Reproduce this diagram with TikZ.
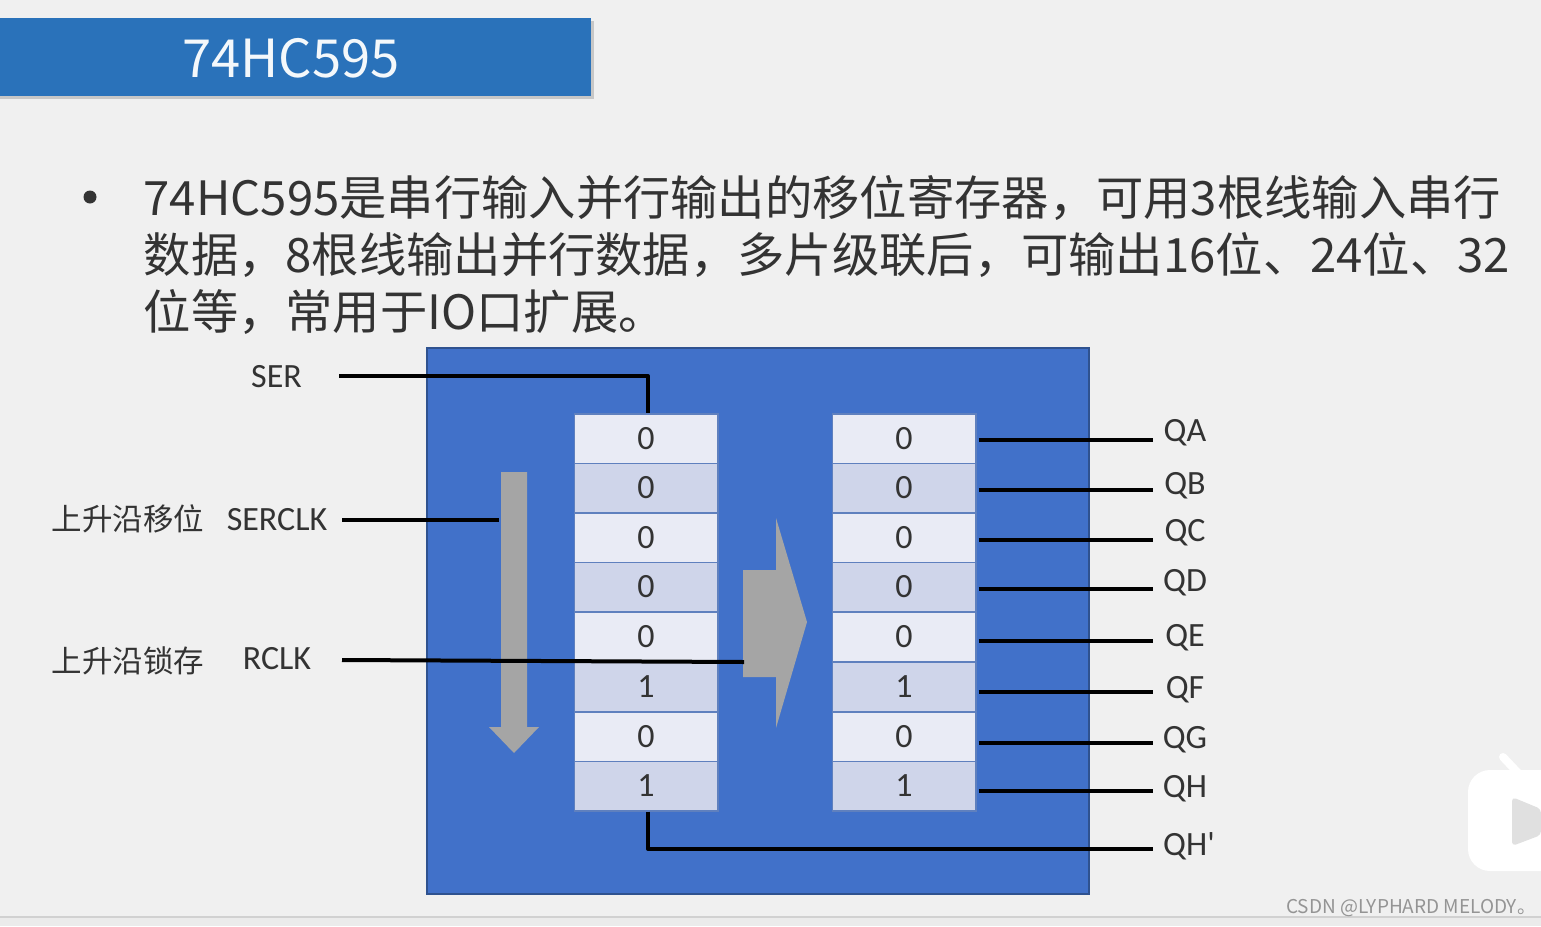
\documentclass[tikz,border=0pt]{standalone}
\usepackage{fontspec}
\setmainfont{Noto Sans CJK SC}
\newfontfamily\sigfont{Carlito}
\definecolor{slide}{HTML}{F0F0F0}
\definecolor{titlebar}{HTML}{2A72BA}
\definecolor{chip}{HTML}{4171C9}
\definecolor{chipline}{HTML}{2F528F}
\definecolor{cellline}{HTML}{5F80BE}
\definecolor{celllight}{HTML}{E9EBF5}
\definecolor{celldark}{HTML}{CFD5EA}
\definecolor{arrowgray}{HTML}{A5A5A5}
\definecolor{ink}{HTML}{333333}
\tikzset{
  cell/.style={draw=cellline,line width=1.5pt,minimum width=143.5pt,minimum height=49.5pt,inner sep=0pt,
    text=ink,font=\sigfont\fontsize{34}{34}\selectfont},
  cella/.style={cell,fill=celllight},
  cellb/.style={cell,fill=celldark},
  sig/.style={inner sep=0pt,text=ink,font=\sigfont\fontsize{34}{34}\selectfont},
  note/.style={inner sep=0pt,text=ink,font=\fontsize{30.5}{30.5}\selectfont},
  body/.style={anchor=west,inner sep=0pt,text=ink,font=\fontsize{47.3}{47.3}\selectfont},
  wire/.style={draw=black,line width=4pt,line join=round}
}
\begin{document}
\begin{tikzpicture}[x=1pt,y=-1pt]
      \useasboundingbox (0,0) rectangle (1541,926);
      \fill[slide] (0,0) rectangle (1541,926);
      \fill[black!8] (0,917) rectangle (1541,926);
      \fill[black!18] (0,915.5) rectangle (1541,917.5);
      % title
      \fill[black!22] (0,21) rectangle (594,99);
      \fill[titlebar] (0,18) rectangle (591,96);
      \node[inner sep=0pt,text=white!95!titlebar,font=\fontsize{52.5}{52.5}\selectfont] (title) at (291,58) {74HC595};
      % text
      \fill[ink] (90,197) circle (6.5);
      \node[body] (line1) at (143.5,198) {74HC595是串行输入并行输出的移位寄存器，可用3根线输入串行};
      \node[body] (line2) at (143.5,255) {数据，8根线输出并行数据，多片级联后，可输出16位、24位、32};
      \node[body] (line3) at (143.5,312) {位等，常用于IO口扩展。};
      % chip
      \draw[chipline,fill=chip,line width=1.5pt] (427,348) rectangle (1089,894);
      \draw
        (646,438.5) node[cella] (l0){0}
        (646,488) node[cellb] (l1){0}
        (646,537.5) node[cella] (l2){0}
        (646,587) node[cellb] (l3){0}
        (646,637) node[cella] (l4){0}
        (646,687) node[cellb] (l5){1}
        (646,737) node[cella] (l6){0}
        (646,786) node[cellb] (l7){1};
      \draw
        (904,438.5) node[cella] (r0){0}
        (904,488) node[cellb] (r1){0}
        (904,537.5) node[cella] (r2){0}
        (904,587) node[cellb] (r3){0}
        (904,637) node[cella] (r4){0}
        (904,687) node[cellb] (r5){1}
        (904,737) node[cella] (r6){0}
        (904,786) node[cellb] (r7){1};
      % block arrows
      \fill[arrowgray] (501,472) -- (527,472) -- (527,727) -- (539,727) -- (514,753)
        -- (489,727) -- (501,727) -- cycle;
      \fill[arrowgray] (743,570) -- (776,570) -- (776,518) -- (807,622) -- (776,728)
        -- (776,677) -- (743,677) -- cycle;
      \coordinate (shiftarrow) at (499,520);
      \coordinate (latcharrow) at (744,662);
      % labels
      \draw
        (276.5,377) node[sig] (ser){SER}
        (277,520) node[sig] (serclk){SERCLK}
        (277,659) node[sig] (rclk){RCLK}
        (128,519) node[note] (rise){上升沿移位}
        (128,661) node[note] (latch){上升沿锁存};
      \draw
        (1185,433) node[sig] (qa){QA}
        (1185,486) node[sig] (qb){QB}
        (1185,533) node[sig] (qc){QC}
        (1185,583) node[sig] (qd){QD}
        (1185,638) node[sig] (qe){QE}
        (1185,690) node[sig] (qf){QF}
        (1185,740) node[sig] (qg){QG}
        (1185,789) node[sig] (qh){QH}
        (1189,846) node[sig] (qs){QH'};
      \coordinate (serin) at (339,376);
      \coordinate (clkin) at (342,520);
      \coordinate (rclkin) at (342,660);
      \coordinate (ea) at (1153,440);
      \coordinate (eb) at (1153,490);
      \coordinate (ec) at (1153,540);
      \coordinate (ed) at (1153,589);
      \coordinate (ee) at (1153,641);
      \coordinate (ef) at (1153,692);
      \coordinate (eg) at (1153,743);
      \coordinate (eh) at (1153,791);
      \coordinate (es) at (1153,849);
      \begin{scope}[wire]
        \draw (serin) -| ([xshift=2pt]l0.north);
        \draw (clkin) -- (shiftarrow);
        \draw (rclkin) -- (latcharrow);
        \draw[shorten <=2pt] (r0.east |- ea) -- (ea);
        \draw[shorten <=2pt] (r1.east |- eb) -- (eb);
        \draw[shorten <=2pt] (r2.east |- ec) -- (ec);
        \draw[shorten <=2pt] (r3.east |- ed) -- (ed);
        \draw[shorten <=2pt] (r4.east |- ee) -- (ee);
        \draw[shorten <=2pt] (r5.east |- ef) -- (ef);
        \draw[shorten <=2pt] (r6.east |- eg) -- (eg);
        \draw[shorten <=2pt] (r7.east |- eh) -- (eh);
        \draw ([xshift=2pt]l7.south) |- (es);
      \end{scope}
      % player badge
      \draw[white,line width=8pt,line cap=round] (1503,757) -- (1520,775);
      \fill[white,rounded corners=22pt] (1468,770) rectangle (1570,871);
      \fill[black!12,rounded corners=4pt] (1512,797) -- (1541,809) -- (1541,835) -- (1512,846) -- cycle;
      % watermark
      \node[inner sep=0pt,anchor=west,text=black!42,font=\fontsize{19}{19}\selectfont] (mark) at (1286,908) {CSDN @LYPHARD MELODY。};
    \end{tikzpicture}
\end{document}
